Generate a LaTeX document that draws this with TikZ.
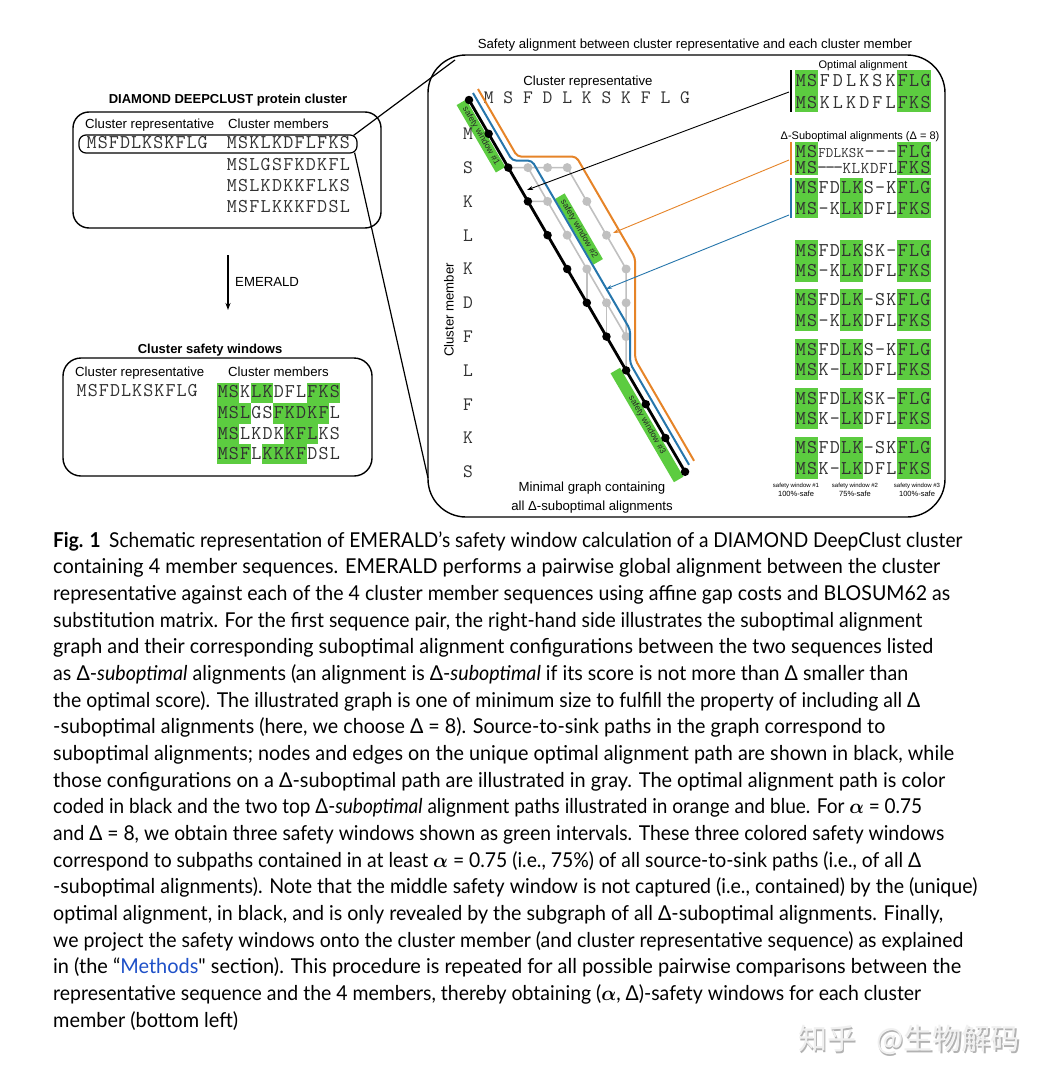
\documentclass[tikz,border=0pt]{standalone}
\usepackage{fontspec}
\usepackage{amsmath}
\usetikzlibrary{arrows.meta}
\newfontfamily\arial{Liberation Sans}
\newfontfamily\capfont{Lato}
\newfontfamily\cjkfont{Noto Sans CJK SC}
\definecolor{swgreen}{RGB}{92,204,64}
\definecolor{orl}{RGB}{230,132,40}
\definecolor{bll}{RGB}{38,118,172}
\definecolor{gnodec}{RGB}{192,192,192}
\definecolor{seqc}{RGB}{50,50,50}
\definecolor{linkblue}{RGB}{30,80,200}
\pgfdeclarelayer{back}
\pgfdeclarelayer{edges}
\pgfsetlayers{back,edges,main}
\makeatletter
\newcommand\spreadseq[2]{\def\sp@p{#1}\sp@loop#2\relax}
\def\sp@loop#1{\ifx#1\relax\else\makebox[\sp@p pt][c]{#1}\expandafter\sp@loop\fi}
\makeatother
\newcommand\seqrow[6]{\node[anchor=base west,inner sep=0pt,text=seqc,font=\ttfamily\fontsize{#5}{#5}\selectfont] (#1) at (#2,{#3+0.3055*#5}) {\spreadseq{#4}{#6}};}
\newcommand\hl[6]{\fill[swgreen] ({#1+#2*#5},#3) rectangle ({#1+#2*(#6+1)},#4);}
\newsavebox\capbox
\newlength\capw
\newcommand\capline[4]{\node[anchor=base west,inner sep=0pt] (#1) at (53,{547+26.667*(#2-1)}) {\capfont\fontsize{20.5}{24}\selectfont\sbox\capbox{#4}\setlength\capw{\wd\capbox}\pgfmathsetmacro\capsx{(#3-53)/\capw}\scalebox{\capsx}[1]{\usebox\capbox}};}
\begin{document}
\begin{tikzpicture}[x=1pt,y=-1pt,
  lbl/.style={inner sep=0pt,font=\arial\fontsize{13.2}{15}\selectfont},
  ttl/.style={inner sep=0pt,font=\arial\bfseries\fontsize{13}{15}\selectfont},
  small/.style={inner sep=0pt,font=\arial\fontsize{11}{13}\selectfont},
  tiny/.style={inner sep=0pt,anchor=base,font=\arial\fontsize{6}{7}\selectfont},
  tinyb/.style={inner sep=0pt,anchor=base,font=\arial\fontsize{7.5}{8}\selectfont},
  axl/.style={inner sep=0pt,anchor=base,text=seqc,font=\ttfamily\fontsize{19}{19}\selectfont},
  bnode/.style={circle,fill=black,inner sep=0pt,minimum size=8.5pt},
  gnode/.style={circle,fill=gnodec,inner sep=0pt,minimum size=9pt},
  gedge/.style={draw=gnodec,line width=1.6pt},
  swbar/.style={fill=swgreen,rotate=-59.8,inner sep=0pt,minimum height=11pt,font=\arial\fontsize{8.5}{9}\selectfont,text=black!85},
  frame/.style={draw=black,line width=1.4pt},
  ptr/.style={line width=0.9pt,-{Stealth[length=6pt,width=4pt]}},
]
\useasboundingbox (0,0) rectangle (1056,1084);
\begin{pgfonlayer}{back}
\fill[white] (0,0) rectangle (1056,1084);
\end{pgfonlayer}

% ---------- left top panel ----------
\node[ttl,anchor=base] (t1) at (228,103.7) {DIAMOND DEEPCLUST protein cluster};
\draw[frame,rounded corners=16] (73,112) rectangle (381,228);
\node[lbl,anchor=base west] (t1rep) at (85,128.7) {Cluster representative};
\node[lbl,anchor=base west] (t1mem) at (228,128.7) {Cluster members};
\seqrow{r0}{86}{143}{11.1}{19.5}{MSFDLKSKFLG}
\seqrow{m1}{226}{143}{11.3}{19.5}{MSKLKDFLFKS}
\seqrow{m2}{226}{165}{11.3}{19.5}{MSLGSFKDKFL}
\seqrow{m3}{226}{186}{11.3}{19.5}{MSLKDKKFLKS}
\seqrow{m4}{226}{207}{11.3}{19.5}{MSFLKKKFDSL}
\node[draw=black,line width=1.2pt,rounded corners=7,inner sep=0pt,minimum width=278pt,minimum height=18pt] (pair) at (218,144) {};

% arrow EMERALD
\coordinate (ea) at (228,255);
\coordinate (eb) at (228,310);
\draw[line width=1.2pt,-{Stealth[length=7pt,width=5pt]}] (ea) -- (eb);
\node[lbl,anchor=base west] (emerald) at (235,286.7) {EMERALD};

% ---------- left bottom panel ----------
\node[ttl,anchor=base] (t2) at (210,353.7) {Cluster safety windows};
\draw[frame,rounded corners=18] (63,358) rectangle (372,476);
\node[lbl,anchor=base west] (t2rep) at (75,376.7) {Cluster representative};
\node[lbl,anchor=base west] (t2mem) at (228,376.7) {Cluster members};
\begin{pgfonlayer}{back}
\hl{217}{11.2}{383}{403.25}{0}{1}
\hl{217}{11.2}{383}{403.25}{3}{4}
\hl{217}{11.2}{383}{403.25}{8}{10}
\hl{217}{11.2}{403.25}{423.5}{0}{2}
\hl{217}{11.2}{403.25}{423.5}{5}{9}
\hl{217}{11.2}{423.5}{443.75}{0}{1}
\hl{217}{11.2}{423.5}{443.75}{6}{8}
\hl{217}{11.2}{443.75}{464}{0}{2}
\hl{217}{11.2}{443.75}{464}{4}{7}
\end{pgfonlayer}
\seqrow{r0b}{76}{391}{11.1}{19.5}{MSFDLKSKFLG}
\seqrow{w1}{217}{392}{11.2}{19.5}{MSKLKDFLFKS}
\seqrow{w2}{217}{413}{11.2}{19.5}{MSLGSFKDKFL}
\seqrow{w3}{217}{433.5}{11.2}{19.5}{MSLKDKKFLKS}
\seqrow{w4}{217}{454}{11.2}{19.5}{MSFLKKKFDSL}

% ---------- right big panel ----------
\node[lbl,anchor=base] (t3) at (695,48.7) {Safety alignment between cluster representative and each cluster member};
\draw[frame,rounded corners=38] (428,55) rectangle (945,517);
\coordinate (zA) at (455,60);
\coordinate (zB) at (428,478);
\draw[line width=1.2pt] ([shift={(-4,1)}]pair.north east) -- (zA);
\draw[line width=1.2pt] ([shift={(-3,-1)}]pair.south east) -- (zB);

\node[lbl,anchor=base] (crep) at (588,85.7) {Cluster representative};
\foreach \c [count=\i] in {M,S,F,D,L,K,S,K,F,L,G}
  \node[axl] (col-\i) at ({469+19.64*\i},103.8) {\c};
\foreach \c [count=\j] in {M,S,K,L,K,D,F,L,F,K,S}
  \node[axl] (row-\j) at (468,{100+33.8*\j+5.8}) {\c};
\node[lbl,rotate=90] (cmem) at (449,310) {Cluster member};
\node[lbl,anchor=base] (mg1) at (592,491.7) {Minimal graph containing};
\node[lbl,anchor=base] (mg2) at (592,510.7) {all Δ-suboptimal alignments};

% safety window bars
\begin{pgfonlayer}{back}
\node[swbar,minimum width=78pt] (sw1) at (481,136) {safety window \#1};
\node[swbar,minimum width=76pt] (sw2) at (579,229) {safety window \#2};
\node[swbar,minimum width=126pt] (sw3) at (647,425) {safety window \#3};
\end{pgfonlayer}

% graph nodes
\foreach \i/\j in {3/2,4/2,5/2,6/3,7/4,8/5,8/6,8/7,4/3,5/4,6/5,7/6}
  \node[gnode] (n-\i-\j) at ({469+19.64*\i},{100+33.8*\j}) {};
\foreach \i in {0,...,11}
  \node[bnode] (n-\i-\i) at ({469+19.64*\i},{100+33.8*\i}) {};

\begin{pgfonlayer}{edges}
\draw[gedge] (n-2-2.center) -- (n-3-2.center) -- (n-4-2.center) -- (n-5-2.center) -- (n-6-3.center) -- (n-7-4.center) -- (n-8-5.center) -- (n-8-6.center) -- (n-8-7.center) -- (n-8-8.center);
\draw[gedge] (n-3-2.center) -- (n-4-3.center);
\draw[gedge] (n-3-3.center) -- (n-4-3.center) -- (n-5-4.center) -- (n-6-5.center) -- (n-7-6.center) -- (n-8-7.center);
\draw[gedge] (n-6-5.center) -- (n-6-6.center);
\draw[gedge] (n-7-6.center) -- (n-7-7.center);
\end{pgfonlayer}

\draw[bll,line width=2pt,rounded corners=4] ([shift={(4,-7)}]n-0-0.center) -- ([shift={(4,-7)}]n-2-2.center) -- ([shift={(4,-7)}]n-3-2.center) -- ([shift={(4,-7)}]n-8-7.center) -- ([shift={(4,-7)}]n-8-8.center) -- ([shift={(4,-7)}]n-11-11.center);
\draw[orl,line width=2pt,rounded corners=4] ([shift={(9,-11)}]n-0-0.center) -- ([shift={(9,-11)}]n-2-2.center) -- ([shift={(9,-11)}]n-5-2.center) -- ([shift={(9,-11)}]n-8-5.center) -- ([shift={(9,-11)}]n-8-8.center) -- ([shift={(9,-11)}]n-11-11.center);
\draw[black,line width=2.8pt] (n-0-0.center) -- (n-11-11.center);

% ---------- right alignments ----------
\node[small,anchor=base] (optl) at (863,68) {Optimal alignment};
\node[small,anchor=base] (subl) at (860,139) {Δ-Suboptimal alignments (Δ = 8)};
\begin{pgfonlayer}{back}
\fill[swgreen] (795,70) rectangle (818,112);
\fill[swgreen] (897,70) rectangle (931,112);
\fill[swgreen] (795,142) rectangle (818,175);
\fill[swgreen] (897,142) rectangle (931,175);
\foreach \t/\b in {178/218,240/281.5,289.3/330.8,338.6/380.1,387.9/429.4,437.2/478.7}{
  \hl{795}{11.33}{\t}{\b}{0}{1}
  \hl{795}{11.33}{\t}{\b}{4}{5}
  \hl{795}{11.33}{\t}{\b}{9}{11}
}
\end{pgfonlayer}
\draw[black,line width=2.5pt] (791,70) -- (791,112);
\draw[orl,line width=2.5pt] (791,142) -- (791,175);
\draw[bll,line width=2.5pt] (791,178) -- (791,218);

\seqrow{o1a}{795}{81}{11.33}{19.5}{MS}
\seqrow{o1b}{818}{81}{13.17}{19.5}{FDLKSK}
\seqrow{o1c}{897}{81}{11.33}{19.5}{FLG}
\seqrow{o2a}{795}{103}{11.33}{19.5}{MS}
\seqrow{o2b}{818}{103}{13.17}{19.5}{KLKDFL}
\seqrow{o2c}{897}{103}{11.33}{19.5}{FKS}

\seqrow{s1a}{795}{152}{11.33}{19.5}{MS}
\seqrow{s1b}{818}{153}{7.67}{14.5}{FDLKSK}
\seqrow{s1c}{864}{152}{11}{19.5}{---}
\seqrow{s1d}{897}{152}{11.33}{19.5}{FLG}
\seqrow{s2a}{795}{168}{11.33}{19.5}{MS}
\seqrow{s2b}{818}{168}{8}{19.5}{---}
\seqrow{s2c}{842}{168}{9.17}{16.5}{KLKDFL}
\seqrow{s2d}{897}{168}{11.33}{19.5}{FKS}

\seqrow{b1}{795}{188}{11.33}{19.5}{MSFDLKS-KFLG}
\seqrow{b2}{795}{209}{11.33}{19.5}{MS-KLKDFLFKS}
\seqrow{p3a}{795}{250.5}{11.33}{19.5}{MSFDLKSK-FLG}
\seqrow{p3b}{795}{271}{11.33}{19.5}{MS-KLKDFLFKS}
\seqrow{p4a}{795}{299.8}{11.33}{19.5}{MSFDLK-SKFLG}
\seqrow{p4b}{795}{320.3}{11.33}{19.5}{MS-KLKDFLFKS}
\seqrow{p5a}{795}{349.1}{11.33}{19.5}{MSFDLKS-KFLG}
\seqrow{p5b}{795}{369.6}{11.33}{19.5}{MSK-LKDFLFKS}
\seqrow{p6a}{795}{398.4}{11.33}{19.5}{MSFDLKSK-FLG}
\seqrow{p6b}{795}{418.9}{11.33}{19.5}{MSK-LKDFLFKS}
\seqrow{p7a}{795}{447.7}{11.33}{19.5}{MSFDLK-SKFLG}
\seqrow{p7b}{795}{468.2}{11.33}{19.5}{MSK-LKDFLFKS}

\node[tiny] (f1a) at (796,487.2) {safety window \#1};
\node[tinyb] (f1b) at (796,496.4) {100\%-safe};
\node[tiny] (f2a) at (855,487.2) {safety window \#2};
\node[tinyb] (f2b) at (855,496.4) {75\%-safe};
\node[tiny] (f3a) at (917,487.2) {safety window \#3};
\node[tinyb] (f3b) at (917,496.4) {100\%-safe};

% pointer arrows
\coordinate (kb) at (789,92);   \coordinate (kt) at (527,190);
\coordinate (ob) at (789,160);  \coordinate (ot) at (613,233);
\coordinate (bb) at (789,215);  \coordinate (bt) at (606,289);
\draw[ptr,black] (kb) -- (kt);
\draw[ptr,orl] (ob) -- (ot);
\draw[ptr,bll] (bb) -- (bt);

% ---------- caption ----------
\capline{c1}{1}{962}{\textbf{Fig. 1}\hspace{0.45em}Schematic representation of EMERALD’s safety window calculation of a DIAMOND DeepClust cluster}
\capline{c2}{2}{940}{containing 4 member sequences. EMERALD performs a pairwise global alignment between the cluster}
\capline{c3}{3}{950}{representative against each of the 4 cluster member sequences using affine gap costs and BLOSUM62 as}
\capline{c4}{4}{922}{substitution matrix. For the first sequence pair, the right-hand side illustrates the suboptimal alignment}
\capline{c5}{5}{933}{graph and their corresponding suboptimal alignment configurations between the two sequences listed}
\capline{c6}{6}{908}{as Δ-\textit{suboptimal} alignments (an alignment is Δ-\textit{suboptimal} if its score is not more than Δ smaller than}
\capline{c7}{7}{920}{the optimal score). The illustrated graph is one of minimum size to fulfill the property of including all Δ}
\capline{c8}{8}{885}{-suboptimal alignments (here, we choose Δ = 8). Source-to-sink paths in the graph correspond to}
\capline{c9}{9}{954}{suboptimal alignments; nodes and edges on the unique optimal alignment path are shown in black, while}
\capline{c10}{10}{945}{those configurations on a Δ-suboptimal path are illustrated in gray. The optimal alignment path is color}
\capline{c11}{11}{922}{coded in black and the two top Δ-\textit{suboptimal} alignment paths illustrated in orange and blue. For $\boldsymbol{\alpha}$ = 0.75}
\capline{c12}{12}{944}{and Δ = 8, we obtain three safety windows shown as green intervals. These three colored safety windows}
\capline{c13}{13}{921}{correspond to subpaths contained in at least $\boldsymbol{\alpha}$ = 0.75 (i.e., 75\%) of all source-to-sink paths (i.e., of all Δ}
\capline{c14}{14}{977}{-suboptimal alignments). Note that the middle safety window is not captured (i.e., contained) by the (unique)}
\capline{c15}{15}{943}{optimal alignment, in black, and is only revealed by the subgraph of all Δ-suboptimal alignments. Finally,}
\capline{c16}{16}{963}{we project the safety windows onto the cluster member (and cluster representative sequence) as explained}
\capline{c17}{17}{961}{in (the “\textcolor{linkblue}{Methods}" section). This procedure is repeated for all possible pairwise comparisons between the}
\capline{c18}{18}{921}{representative sequence and the 4 members, thereby obtaining ($\boldsymbol{\alpha}$, Δ)-safety windows for each cluster}
\capline{c19}{19}{238}{member (bottom left)}

% ---------- watermark ----------
\node[anchor=west,inner sep=0pt,text=black!30,font=\cjkfont\fontsize{29}{29}\selectfont] (wms) at (799.5,1041.5) {知乎\hspace{20pt}@生物解码};
\node[anchor=west,inner sep=0pt,text=black!6,font=\cjkfont\fontsize{29}{29}\selectfont] (wm) at (798,1040) {知乎\hspace{20pt}@生物解码};
\end{tikzpicture}
\end{document}
